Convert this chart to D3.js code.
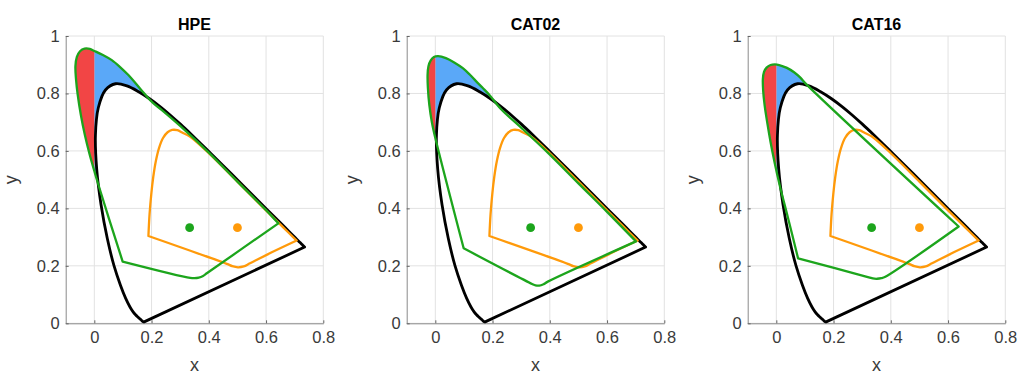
<!DOCTYPE html>
<html><head><meta charset="utf-8">
<script src="https://cdn.jsdelivr.net/npm/d3@7"></script>
<style>
body{margin:0;background:#fff;}
svg text{font-family:"Liberation Sans",Arial,Helvetica,sans-serif;}
</style>
</head><body>
<svg id="chart" width="1024" height="383"></svg>
<script>
// ---- data ----
const panelTitles = ["HPE", "CAT02", "CAT16"];
const xTicks = [0, 0.2, 0.4, 0.6, 0.8];
const xTickLabels = ["0", "0.2", "0.4", "0.6", "0.8"];
const yTicks = [0, 0.2, 0.4, 0.6, 0.8, 1];
const yTickLabels = ["0", "0.2", "0.4", "0.6", "0.8", "1"];
const xDomain = [-0.1, 0.8];
const yDomain = [0, 1];

// spectral locus (black), closed by the straight purple line
const locusX = [0.1741,0.1740,0.1738,0.1736,0.1733,0.1730,0.1726,0.1721,0.1714,0.1703,0.1689,0.1669,0.1644,0.1611,0.1566,0.1510,0.1440,0.1355,0.1241,0.1096,0.0913,0.0687,0.0454,0.0235,0.0082,0.0039,0.0139,0.0389,0.0743,0.1142,0.1547,0.1929,0.2296,0.2658,0.3016,0.3373,0.3731,0.4087,0.4441,0.4788,0.5125,0.5448,0.5752,0.6029,0.6270,0.6482,0.6658,0.6801,0.6915,0.7006,0.7079,0.7140,0.7190,0.7230,0.7260,0.7283,0.7300,0.7311,0.7320,0.7327,0.7334,0.7340,0.7344,0.7346,0.7347];
const locusY = [0.0050,0.0050,0.0049,0.0049,0.0048,0.0048,0.0048,0.0048,0.0051,0.0058,0.0069,0.0086,0.0109,0.0138,0.0177,0.0227,0.0297,0.0399,0.0578,0.0868,0.1327,0.2007,0.2950,0.4127,0.5384,0.6548,0.7502,0.8120,0.8338,0.8262,0.8059,0.7816,0.7543,0.7243,0.6923,0.6589,0.6245,0.5896,0.5547,0.5202,0.4866,0.4544,0.4242,0.3965,0.3725,0.3514,0.3340,0.3197,0.3083,0.2993,0.2920,0.2859,0.2809,0.2770,0.2740,0.2717,0.2700,0.2689,0.2680,0.2673,0.2666,0.2660,0.2656,0.2654,0.2653];

// source gamut (orange), same in all panels; sharp corners at listed indices
const sourceGamutX = [0.189,0.193,0.199,0.206,0.215,0.226,0.240,0.256,0.272,0.290,0.307,0.334,0.400,0.500,0.600,0.660,0.707,0.620,0.544,0.522,0.502,0.482,0.463];
const sourceGamutY = [0.304,0.380,0.450,0.510,0.565,0.610,0.645,0.665,0.673,0.672,0.664,0.650,0.592,0.493,0.393,0.334,0.288,0.247,0.209,0.198,0.195,0.199,0.207];
const sourceGamutCorners = [0, 16];

// adapted gamut (green), one per panel; sharp corners at listed indices
const adaptedGamutX = [
  [0.643,0.393,0.380,0.365,0.350,0.335,0.099,0.050,0.018,0.000,-0.017,-0.033,-0.047,-0.058,-0.064,-0.066,-0.061,-0.050,-0.034,-0.016,0.000,0.030,0.061,0.090,0.119,0.148,0.177,0.205,0.235,0.300,0.400,0.500,0.600],
  [0.701,0.393,0.378,0.363,0.350,0.338,0.099,0.000,-0.012,-0.021,-0.026,-0.027,-0.024,-0.016,-0.005,0.010,0.037,0.066,0.096,0.120,0.142,0.166,0.189,0.230,0.300,0.400,0.500,0.600],
  [0.637,0.381,0.367,0.352,0.337,0.323,0.076,0.040,0.012,-0.006,-0.020,-0.032,-0.041,-0.046,-0.047,-0.043,-0.034,-0.020,-0.005,0.010,0.037,0.062,0.084,0.107]
];
const adaptedGamutY = [
  [0.348,0.174,0.165,0.159,0.157,0.158,0.215,0.368,0.470,0.530,0.590,0.655,0.725,0.795,0.850,0.895,0.927,0.947,0.956,0.955,0.948,0.934,0.916,0.892,0.864,0.831,0.797,0.767,0.743,0.687,0.594,0.493,0.394],
  [0.285,0.145,0.136,0.131,0.132,0.137,0.261,0.645,0.700,0.760,0.820,0.865,0.895,0.915,0.927,0.930,0.923,0.908,0.888,0.866,0.843,0.819,0.795,0.745,0.681,0.587,0.487,0.388],
  [0.337,0.162,0.157,0.155,0.156,0.160,0.226,0.370,0.480,0.560,0.630,0.700,0.760,0.810,0.850,0.875,0.890,0.899,0.901,0.899,0.889,0.874,0.855,0.830]
];
const adaptedGamutCorners = [[0, 6], [0, 6], [0, 6]];

const sourceWhite = [0.5, 0.333];   // orange dot
const targetWhite = [0.333, 0.333]; // green dot

// ---- drawing ----
const colBlack = "#000000", colOrange = "#ff9a0a", colGreen = "#1ca51c",
      colRed = "#f24545", colBlue = "#5aa8f8";
const panelWidth = 341;
const plotLeft = 65.7, plotRight = 323.3, plotTop = 36, plotBottom = 323.3;

const svg = d3.select("#chart");

// closed outline through points, smooth between the listed sharp corners
function outlinePath(line, pts, corners) {
  const c = corners.slice().sort((a, b) => a - b);
  let d = "";
  c.forEach((start, k) => {
    const end = c[(k + 1) % c.length];
    const piece = [];
    let j = start;
    piece.push(pts[j]);
    do { j = (j + 1) % pts.length; piece.push(pts[j]); } while (j !== end);
    const s = line(piece);
    d += (k === 0) ? s : s.replace(/^M/, "L");
  });
  return d + "Z";
}

panelTitles.forEach((title, i) => {
  const g = svg.append("g").attr("transform", `translate(${i * panelWidth},0)`);
  const x = d3.scaleLinear().domain(xDomain).range([plotLeft, plotRight]);
  const y = d3.scaleLinear().domain(yDomain).range([plotBottom, plotTop]);
  const smooth = d3.line().x(d => x(d[0])).y(d => y(d[1])).curve(d3.curveCatmullRom.alpha(0.5));

  // grid
  g.append("g").selectAll("line").data(xTicks).join("line")
    .attr("x1", d => x(d)).attr("x2", d => x(d))
    .attr("y1", y(yDomain[0])).attr("y2", y(yDomain[1]))
    .attr("stroke", "#e2e2e2").attr("stroke-width", 1);
  g.append("g").selectAll("line").data(yTicks).join("line")
    .attr("y1", d => y(d)).attr("y2", d => y(d))
    .attr("x1", x(xDomain[0])).attr("x2", x(xDomain[1]))
    .attr("stroke", "#e2e2e2").attr("stroke-width", 1);

  const locusPts = locusX.map((v, k) => [v, locusY[k]]);
  const greenPts = adaptedGamutX[i].map((v, k) => [v, adaptedGamutY[i][k]]);
  const orangePts = sourceGamutX.map((v, k) => [v, sourceGamutY[k]]);

  const locusD = smooth(locusPts) + "Z";
  const greenD = outlinePath(smooth, greenPts, adaptedGamutCorners[i]);
  const orangeD = outlinePath(smooth, orangePts, sourceGamutCorners);

  const defs = g.append("defs");
  const mask = defs.append("mask").attr("id", "locusMask" + i)
    .attr("maskUnits", "userSpaceOnUse")
    .attr("x", 0).attr("y", 0).attr("width", panelWidth).attr("height", 383);
  mask.append("rect").attr("x", 0).attr("y", 0).attr("width", panelWidth).attr("height", 383).attr("fill", "white");
  mask.append("path").attr("d", locusD).attr("fill", "black");

  defs.append("clipPath").attr("id", "posClip" + i).append("rect")
    .attr("x", x(0)).attr("y", y(yDomain[1])).attr("width", x(xDomain[1]) - x(0))
    .attr("height", y(yDomain[0]) - y(yDomain[1]));
  defs.append("clipPath").attr("id", "negClip" + i).append("rect")
    .attr("x", x(xDomain[0])).attr("y", y(yDomain[1])).attr("width", x(0) - x(xDomain[0]))
    .attr("height", y(yDomain[0]) - y(yDomain[1]));

  // fills
  g.append("path").attr("d", greenD).attr("fill", colBlue)
    .attr("clip-path", `url(#posClip${i})`).attr("mask", `url(#locusMask${i})`);
  g.append("path").attr("d", greenD).attr("fill", colRed)
    .attr("clip-path", `url(#negClip${i})`);

  // axes
  const xAxis = d3.axisBottom(x).tickValues(xTicks).tickFormat((d, k) => xTickLabels[k])
    .tickSizeInner(-3).tickSizeOuter(0).tickPadding(8);
  const yAxis = d3.axisLeft(y).tickValues(yTicks).tickFormat((d, k) => yTickLabels[k])
    .tickSizeInner(-3).tickSizeOuter(0).tickPadding(6);
  const gx = g.append("g").attr("transform", `translate(0,${plotBottom})`).call(xAxis);
  const gy = g.append("g").attr("transform", `translate(${plotLeft},0)`).call(yAxis);
  [gx, gy].forEach(a => {
    a.select(".domain").attr("stroke", "#8a8a8a").attr("stroke-width", 1);
    a.selectAll(".tick line").attr("stroke", "#666");
    a.selectAll(".tick text").attr("fill", "#3a3a3a").style("font-size", "16.5px");
  });

  // curves
  g.append("path").attr("d", locusD).attr("fill", "none")
    .attr("stroke", colBlack).attr("stroke-width", 2.8).attr("stroke-linejoin", "round");
  g.append("path").attr("d", orangeD).attr("fill", "none")
    .attr("stroke", colOrange).attr("stroke-width", 2.3).attr("stroke-linejoin", "round");
  g.append("path").attr("d", greenD).attr("fill", "none")
    .attr("stroke", colGreen).attr("stroke-width", 2.3).attr("stroke-linejoin", "round");

  // white points
  g.append("circle").attr("cx", x(targetWhite[0])).attr("cy", y(targetWhite[1])).attr("r", 4.4).attr("fill", colGreen);
  g.append("circle").attr("cx", x(sourceWhite[0])).attr("cy", y(sourceWhite[1])).attr("r", 4.4).attr("fill", colOrange);

  // title & labels
  g.append("text").attr("x", (plotLeft + plotRight) / 2).attr("y", 29.5)
    .attr("text-anchor", "middle").style("font-size", "16px").style("font-weight", "bold")
    .attr("fill", "#000").text(title);
  g.append("text").attr("x", (plotLeft + plotRight) / 2).attr("y", 371)
    .attr("text-anchor", "middle").style("font-size", "18px").attr("fill", "#3a3a3a").text("x");
  g.append("text").attr("transform", `translate(17,${(plotTop + plotBottom) / 2}) rotate(-90)`)
    .attr("text-anchor", "middle").style("font-size", "18px").attr("fill", "#3a3a3a").text("y");
});
</script>
</body></html>
